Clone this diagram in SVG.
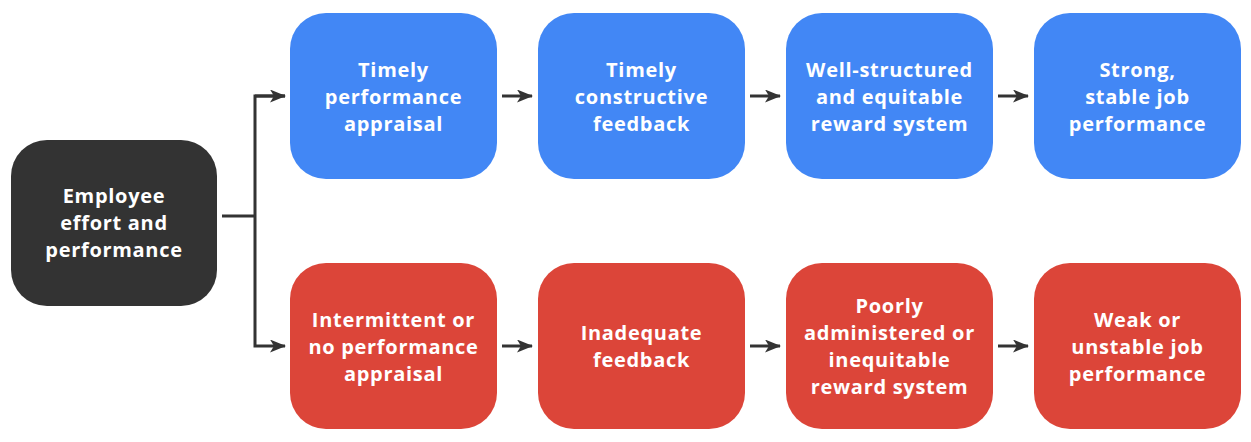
<svg xmlns="http://www.w3.org/2000/svg" width="1251" height="442" viewBox="0 0 1251 442">
<defs>
<style>
.box{stroke:none}
.dark{fill:#333333}
.blue{fill:#4287F5}
.red{fill:#DC4539}
.t{font-family:"Open Sans","Liberation Sans",sans-serif;font-weight:bold;font-size:20px;letter-spacing:0.7px;fill:#ffffff;text-anchor:middle}
.c{stroke:#333333;stroke-width:3;fill:none}
</style>
<marker id="ah" viewBox="0 0 16 13" refX="15" refY="6.5" markerWidth="16" markerHeight="13" markerUnits="userSpaceOnUse" orient="auto">
<path d="M0,0 L16,6.5 L0,13 L4,6.5 Z" fill="#333333"/>
</marker>
</defs>
<rect width="1251" height="442" fill="#ffffff"/>
<g id="connectors">
<polyline class="c" points="222,216 255,216"/>
<polyline class="c" points="285,96 255,96 255,346 285,346" marker-end="url(#ah)"/>
<polyline class="c" points="255,96 285,96" marker-end="url(#ah)"/>
<line class="c" x1="502" y1="96" x2="532" y2="96" marker-end="url(#ah)"/>
<line class="c" x1="750" y1="96" x2="780" y2="96" marker-end="url(#ah)"/>
<line class="c" x1="998" y1="96" x2="1028" y2="96" marker-end="url(#ah)"/>
<line class="c" x1="502" y1="346" x2="532" y2="346" marker-end="url(#ah)"/>
<line class="c" x1="750" y1="346" x2="780" y2="346" marker-end="url(#ah)"/>
<line class="c" x1="998" y1="346" x2="1028" y2="346" marker-end="url(#ah)"/>
</g>
<g id="n0"><rect class="box dark" x="11" y="140" width="206" height="166" rx="36"/>
<text class="t" x="114"><tspan x="114" y="203">Employee</tspan><tspan x="114" y="230">effort and</tspan><tspan x="114" y="257">performance</tspan></text></g>
<g id="b1"><rect class="box blue" x="290" y="13" width="207" height="166" rx="36"/>
<text class="t"><tspan x="393.5" y="77">Timely</tspan><tspan x="393.5" y="104">performance</tspan><tspan x="393.5" y="131">appraisal</tspan></text></g>
<g id="b2"><rect class="box blue" x="538" y="13" width="207" height="166" rx="36"/>
<text class="t"><tspan x="641.5" y="77">Timely</tspan><tspan x="641.5" y="104">constructive</tspan><tspan x="641.5" y="131">feedback</tspan></text></g>
<g id="b3"><rect class="box blue" x="786" y="13" width="207" height="166" rx="36"/>
<text class="t"><tspan x="889.5" y="77">Well-structured</tspan><tspan x="889.5" y="104">and equitable</tspan><tspan x="889.5" y="131">reward system</tspan></text></g>
<g id="b4"><rect class="box blue" x="1034" y="13" width="207" height="166" rx="36"/>
<text class="t"><tspan x="1137.5" y="77">Strong,</tspan><tspan x="1137.5" y="104">stable job</tspan><tspan x="1137.5" y="131">performance</tspan></text></g>
<g id="r1"><rect class="box red" x="290" y="263" width="207" height="166" rx="36"/>
<text class="t"><tspan x="393.5" y="327">Intermittent or</tspan><tspan x="393.5" y="354">no performance</tspan><tspan x="393.5" y="381">appraisal</tspan></text></g>
<g id="r2"><rect class="box red" x="538" y="263" width="207" height="166" rx="36"/>
<text class="t"><tspan x="641.5" y="340">Inadequate</tspan><tspan x="641.5" y="367">feedback</tspan></text></g>
<g id="r3"><rect class="box red" x="786" y="263" width="207" height="166" rx="36"/>
<text class="t"><tspan x="889.5" y="313">Poorly</tspan><tspan x="889.5" y="340">administered or</tspan><tspan x="889.5" y="367">inequitable</tspan><tspan x="889.5" y="394">reward system</tspan></text></g>
<g id="r4"><rect class="box red" x="1034" y="263" width="207" height="166" rx="36"/>
<text class="t"><tspan x="1137.5" y="327">Weak or</tspan><tspan x="1137.5" y="354">unstable job</tspan><tspan x="1137.5" y="381">performance</tspan></text></g>
</svg>
